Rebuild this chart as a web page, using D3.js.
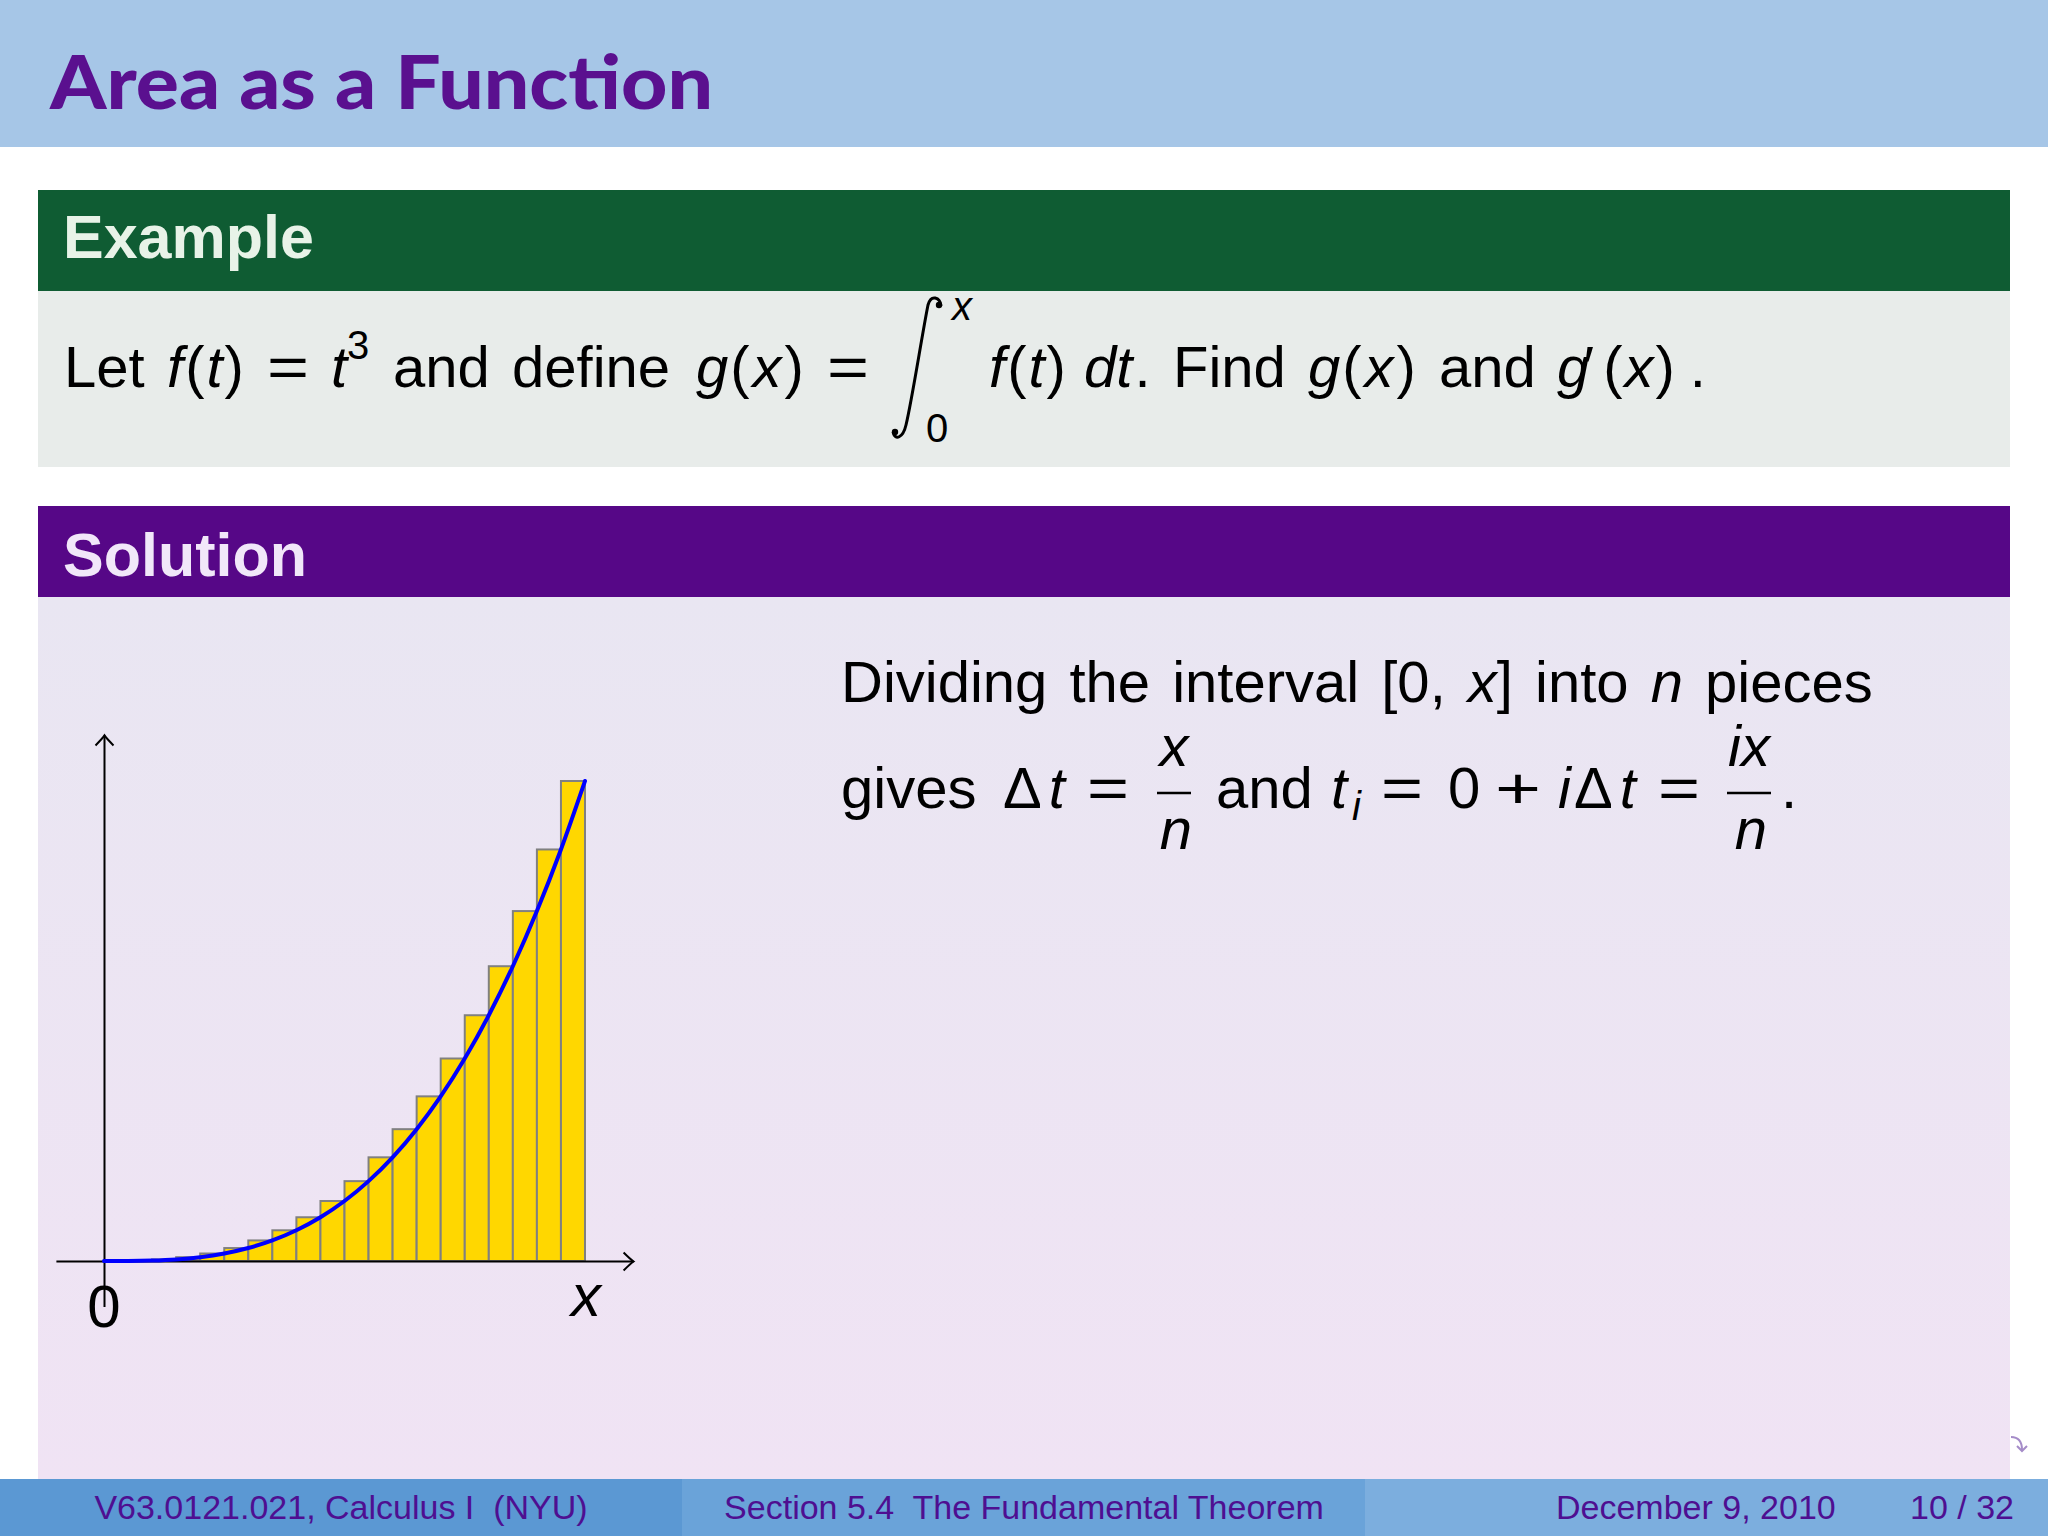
<!DOCTYPE html>
<html><head><meta charset="utf-8">
<script src="https://cdn.jsdelivr.net/npm/d3@7"></script>
<style>html,body{margin:0;padding:0;background:#fff;} svg{display:block}</style>
</head><body><svg id="c" width="2048" height="1536"></svg>
<script>
// ---- data (20 right-endpoint rectangles under t^3 on [0, x]) ----
const partitionLeft  = [0, 0.05, 0.10, 0.15, 0.20, 0.25, 0.30, 0.35, 0.40, 0.45, 0.50, 0.55, 0.60, 0.65, 0.70, 0.75, 0.80, 0.85, 0.90, 0.95];
const partitionRight = [0.05, 0.10, 0.15, 0.20, 0.25, 0.30, 0.35, 0.40, 0.45, 0.50, 0.55, 0.60, 0.65, 0.70, 0.75, 0.80, 0.85, 0.90, 0.95, 1.00];
const barHeights     = [0.000125, 0.001, 0.003375, 0.008, 0.015625, 0.027, 0.042875, 0.064, 0.091125, 0.125,
                        0.166375, 0.216, 0.274625, 0.343, 0.421875, 0.512, 0.614125, 0.729, 0.857375, 1.0];
const curveT         = [0, 0.05, 0.10, 0.15, 0.20, 0.25, 0.30, 0.35, 0.40, 0.45, 0.50, 0.55, 0.60, 0.65, 0.70, 0.75, 0.80, 0.85, 0.90, 0.95, 1.00];
const curveValues    = [0, 0.000125, 0.001, 0.003375, 0.008, 0.015625, 0.027, 0.042875, 0.064, 0.091125, 0.125,
                        0.166375, 0.216, 0.274625, 0.343, 0.421875, 0.512, 0.614125, 0.729, 0.857375, 1.0];
const xAxisExtent    = [-0.1, 1.1];
const yAxisExtent    = [-0.095, 1.096];
const axisLabels     = ["0", "x"];
const footerTexts    = ["V63.0121.021, Calculus I  (NYU)", "Section 5.4  The Fundamental Theorem", "December 9, 2010", "10 / 32"];

const svg = d3.select("#c");
const F = "'Liberation Sans', Arial, Helvetica, sans-serif";

// ---- background blocks ----
const defs = svg.append("defs");
const grad = defs.append("linearGradient").attr("id","solbg").attr("x1",0).attr("y1",0).attr("x2",0).attr("y2",1);
grad.append("stop").attr("offset","0%").attr("stop-color","#e9e6f2");
grad.append("stop").attr("offset","100%").attr("stop-color","#f0e3f4");

svg.append("rect").attr("x",0).attr("y",0).attr("width",2048).attr("height",147).attr("fill","#a6c6e7");
svg.append("text").attr("x",50).attr("y",109).attr("font-family","Lato, 'Open Sans', sans-serif")
  .attr("font-weight",900).attr("font-size",74).attr("fill","#5a108f")
  .attr("textLength",663).attr("lengthAdjust","spacingAndGlyphs").text("Area as a Function");

// Example block
svg.append("rect").attr("x",38).attr("y",190).attr("width",1972).attr("height",101).attr("fill","#0f5c33");
svg.append("rect").attr("x",38).attr("y",291).attr("width",1972).attr("height",176).attr("fill","#e8ecea");
svg.append("text").attr("x",63).attr("y",258).attr("font-family",F).attr("font-weight",700)
  .attr("font-size",61).attr("fill","#e8f3e8").text("Example");

// Solution block
svg.append("rect").attr("x",38).attr("y",506).attr("width",1972).attr("height",91).attr("fill","#560787");
svg.append("rect").attr("x",38).attr("y",597).attr("width",1972).attr("height",883).attr("fill","url(#solbg)");
svg.append("text").attr("x",63).attr("y",576).attr("font-family",F).attr("font-weight",700)
  .attr("font-size",61).attr("fill","#f1e7f9").text("Solution");

// Footer
svg.append("rect").attr("x",0).attr("y",1479).attr("width",682).attr("height",57).attr("fill","#5b98d3");
svg.append("rect").attr("x",682).attr("y",1479).attr("width",683).attr("height",57).attr("fill","#6aa3d9");
svg.append("rect").attr("x",1365).attr("y",1479).attr("width",683).attr("height",57).attr("fill","#7caede");
const footC = "#4e0f91";
function foot(x, anchor, s) {
  svg.append("text").attr("x",x).attr("y",1519).attr("text-anchor",anchor).attr("font-family",F)
    .attr("font-size",34).attr("fill",footC).attr("xml:space","preserve").text(s);
}
foot(341, "middle", footerTexts[0]);
foot(1024, "middle", footerTexts[1]);
foot(1556, "start", footerTexts[2]);
foot(1910, "start", footerTexts[3]);

// nav symbol
svg.append("path").attr("d","M2011,1437 C2019,1437 2022,1442 2022,1450").attr("fill","none").attr("stroke","#a58cc8").attr("stroke-width",2);
svg.append("path").attr("d","M2017,1446 L2022,1451 L2027,1446").attr("fill","none").attr("stroke","#a58cc8").attr("stroke-width",2);

// ---- text helper ----
function seg(x, y, parts, opt) {
  opt = opt || {};
  const t = svg.append("text").attr("x",x).attr("y",y).attr("font-family",F)
    .attr("font-size",opt.size || 58).attr("fill","#000");
  if (opt.anchor) t.attr("text-anchor",opt.anchor);
  if (opt.ws) t.attr("word-spacing",opt.ws);
  t.attr("xml:space","preserve");
  parts.forEach(p => {
    const s = t.append("tspan").text(p[0]);
    if (p[1]) s.attr("font-style","italic");
    if (p[2]) s.attr("dx",p[2]);
  });
  return t;
}
function sym(x, y, s, w) {
  svg.append("text").attr("x",x).attr("y",y).attr("font-family",F).attr("font-size",58)
    .attr("textLength",w).attr("lengthAdjust","spacingAndGlyphs").text(s);
}
function eq(cx, y) { sym(cx-21, y, "=", 42); }

// ---- Example line ----
const b1 = 387;
seg(64, b1, [["Let"]]);
seg(167, b1, [["f",1],["(",0,2],["t",1,2],[")",0,2]]);
eq(288, b1);
seg(331, b1, [["t",1]]);
seg(347, 359, [["3"]], {size:40});
seg(393, b1, [["and"]]);
seg(512, b1, [["define"]]);
seg(696, b1, [["g",1],["(",0,2],["x",1,3],[")",0,3]]);
eq(848, b1);
svg.append("path").attr("d","M941,306 C940,297 931,294 928,305 C922,335 912,400 906,425 C903,438 895,441 893,432")
  .attr("fill","none").attr("stroke","#000").attr("stroke-width",3);
svg.append("circle").attr("cx",939).attr("cy",305).attr("r",3.2).attr("fill","#000");
svg.append("circle").attr("cx",895).attr("cy",432).attr("r",3.2).attr("fill","#000");
seg(952, 320, [["x",1]], {size:40});
seg(926, 442, [["0"]], {size:40});
seg(989, b1, [["f",1],["(",0,2],["t",1,2],[")",0,2]]);
seg(1084, b1, [["dt",1],[".",0,2]]);
seg(1173, b1, [["Find"]]);
seg(1308, b1, [["g",1],["(",0,2],["x",1,3],[")",0,3]]);
seg(1439, b1, [["and"]]);
seg(1557, b1, [["g",1],["\u2032",0,-6],["(",0,9],["x",1,2],[")",0,2],[".",0,15]]);

// ---- Solution text ----
seg(841, 702, [["Dividing the interval [0, "],["x",1],["] into "],["n",1],[" pieces"]], {ws:6});
const b2 = 808;
seg(841, b2, [["gives"]]);
seg(1003, b2, [["\u0394"],["t",1,7]]);
eq(1108, b2);
seg(1174, 766, [["x",1]], {anchor:"middle"});
svg.append("line").attr("x1",1157).attr("x2",1191).attr("y1",793).attr("y2",793).attr("stroke","#000").attr("stroke-width",2.5);
seg(1176, 849, [["n",1]], {anchor:"middle"});
seg(1216, b2, [["and"]]);
seg(1331, b2, [["t",1]]);
seg(1352, 820, [["i",1]], {size:40});
eq(1402, b2);
seg(1448, b2, [["0"]]);
sym(1495, b2, "+", 46);
seg(1558, b2, [["i",1],["\u0394",0,3],["t",1,7]]);
eq(1679, b2);
seg(1749, 766, [["ix",1]], {anchor:"middle"});
svg.append("line").attr("x1",1727).attr("x2",1771).attr("y1",793).attr("y2",793).attr("stroke","#000").attr("stroke-width",2.5);
seg(1751, 849, [["n",1]], {anchor:"middle"});
seg(1781, b2, [["."]]);

// ---- chart ----
const x = d3.scaleLinear().domain([0,1]).range([104,585]);
const y = d3.scaleLinear().domain([0,1]).range([1261,781]);
const chart = svg.append("g");

const mk = defs.append("marker").attr("id","arr").attr("viewBox","-14 -12 16 24")
  .attr("refX",0).attr("refY",0).attr("markerWidth",16).attr("markerHeight",24)
  .attr("markerUnits","userSpaceOnUse").attr("orient","auto");
mk.append("path").attr("d","M-10,-9 Q-3,-2 0,0 Q-3,2 -10,9").attr("fill","none").attr("stroke","#000").attr("stroke-width",2);

chart.selectAll("rect.bar").data(barHeights).join("rect").attr("class","bar")
  .attr("x",(d,i)=>x(partitionLeft[i]))
  .attr("width",(d,i)=>x(partitionRight[i])-x(partitionLeft[i]))
  .attr("y",d=>y(d)).attr("height",d=>y(0)-y(d))
  .attr("fill","#ffd700").attr("stroke","#808080").attr("stroke-width",2);

const xAxisScale = x.copy().domain(xAxisExtent).range(xAxisExtent.map(x));
const yAxisScale = y.copy().domain(yAxisExtent).range(yAxisExtent.map(y));
const gx = chart.append("g").attr("transform",`translate(0,${y(0)})`)
  .call(d3.axisBottom(xAxisScale).tickValues([]).tickSizeOuter(0));
const gy = chart.append("g").attr("transform",`translate(${x(0)},0)`)
  .call(d3.axisLeft(yAxisScale).tickValues([]).tickSizeOuter(0));
[gx,gy].forEach(g => g.select(".domain").attr("stroke","#000").attr("stroke-width",2).attr("marker-end","url(#arr)"));

const line = d3.line().x((d,i)=>x(curveT[i])).y(d=>y(d)).curve(d3.curveMonotoneX);
chart.append("path").datum(curveValues).attr("d",line).attr("fill","none")
  .attr("stroke","#0000ff").attr("stroke-width",4).attr("stroke-linecap","round");

chart.append("text").attr("x",x(0)).attr("y",1327).attr("text-anchor","middle").attr("font-family",F)
  .attr("font-size",60).text(axisLabels[0]);
chart.append("text").attr("x",x(1)+1).attr("y",1316).attr("text-anchor","middle").attr("font-family",F)
  .attr("font-style","italic").attr("font-size",60).text(axisLabels[1]);
</script></body></html>
